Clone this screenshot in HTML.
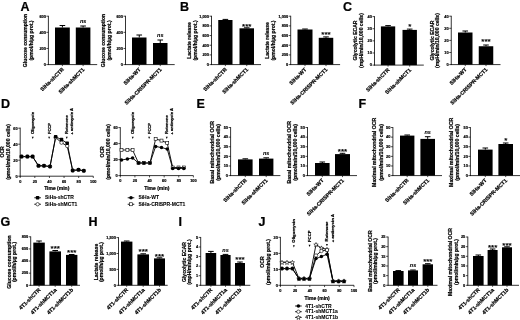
<!DOCTYPE html>
<html><head><meta charset="utf-8"><style>
html,body{margin:0;padding:0;background:#fff;}
body{width:520px;height:320px;overflow:hidden;}
svg{display:block;filter:blur(0.3px);}
text{font-family:"Liberation Sans", Arial, sans-serif;stroke:#000;stroke-width:0.22px;}
</style></head><body>
<svg width="520" height="320" viewBox="0 0 520 320" font-weight="bold">
<rect width="520" height="320" fill="#fff"/>
<text x="20.60" y="10.80" font-size="12.5" text-anchor="start" fill="#000">A</text>
<text x="180.00" y="10.80" font-size="12.5" text-anchor="start" fill="#000">B</text>
<text x="343.00" y="10.90" font-size="12.5" text-anchor="start" fill="#000">C</text>
<text x="26.90" y="40.50" font-size="5.08" text-anchor="middle" transform="rotate(-90 26.90 40.50)" fill="#000">Glucose consumption</text>
<text x="32.60" y="40.50" font-size="5.08" text-anchor="middle" transform="rotate(-90 32.60 40.50)" fill="#000">(pmol/h/µg prot.)</text>
<rect x="55.00" y="27.50" width="14.80" height="37.10" fill="#000"/>
<line x1="62.40" y1="25.50" x2="62.40" y2="27.50" stroke="#000" stroke-width="1.0"/>
<line x1="59.60" y1="25.50" x2="65.20" y2="25.50" stroke="#000" stroke-width="1.0"/>
<rect x="75.80" y="27.50" width="14.60" height="37.10" fill="#000"/>
<line x1="83.10" y1="26.00" x2="83.10" y2="27.50" stroke="#000" stroke-width="1.0"/>
<line x1="80.30" y1="26.00" x2="85.90" y2="26.00" stroke="#000" stroke-width="1.0"/>
<line x1="48.40" y1="15.80" x2="48.40" y2="65.00" stroke="#000" stroke-width="0.8"/>
<line x1="48.00" y1="64.60" x2="97.20" y2="64.60" stroke="#000" stroke-width="0.8"/>
<line x1="46.40" y1="16.20" x2="48.40" y2="16.20" stroke="#000" stroke-width="0.7"/>
<text x="45.80" y="17.50" font-size="3.85" text-anchor="end" fill="#000" style="stroke-width:0.18px">600</text>
<line x1="46.40" y1="32.33" x2="48.40" y2="32.33" stroke="#000" stroke-width="0.7"/>
<text x="45.80" y="33.63" font-size="3.85" text-anchor="end" fill="#000" style="stroke-width:0.18px">400</text>
<line x1="46.40" y1="48.47" x2="48.40" y2="48.47" stroke="#000" stroke-width="0.7"/>
<text x="45.80" y="49.77" font-size="3.85" text-anchor="end" fill="#000" style="stroke-width:0.18px">200</text>
<line x1="46.40" y1="64.60" x2="48.40" y2="64.60" stroke="#000" stroke-width="0.7"/>
<text x="45.80" y="65.90" font-size="3.85" text-anchor="end" fill="#000" style="stroke-width:0.18px">0</text>
<line x1="62.40" y1="64.60" x2="62.40" y2="66.10" stroke="#000" stroke-width="0.7"/>
<text x="64.20" y="69.90" font-size="5.3" text-anchor="end" transform="rotate(-45 64.20 69.90)" fill="#000">SiHa-shCTR</text>
<line x1="83.10" y1="64.60" x2="83.10" y2="66.10" stroke="#000" stroke-width="0.7"/>
<text x="84.90" y="69.90" font-size="5.3" text-anchor="end" transform="rotate(-45 84.90 69.90)" fill="#000">SiHa-shMCT1</text>
<text x="83.10" y="23.23" font-size="5.5" text-anchor="middle" font-style="italic" fill="#000" style="stroke-width:0.1px">ns</text>
<text x="105.40" y="40.50" font-size="5.08" text-anchor="middle" transform="rotate(-90 105.40 40.50)" fill="#000">Glucose consumption</text>
<text x="111.40" y="40.50" font-size="5.08" text-anchor="middle" transform="rotate(-90 111.40 40.50)" fill="#000">(pmol/h/µg prot.)</text>
<rect x="132.00" y="37.50" width="14.50" height="27.10" fill="#000"/>
<line x1="139.25" y1="35.00" x2="139.25" y2="37.50" stroke="#000" stroke-width="1.0"/>
<line x1="136.45" y1="35.00" x2="142.05" y2="35.00" stroke="#000" stroke-width="1.0"/>
<rect x="153.00" y="43.00" width="14.50" height="21.60" fill="#000"/>
<line x1="160.25" y1="40.00" x2="160.25" y2="43.00" stroke="#000" stroke-width="1.0"/>
<line x1="157.45" y1="40.00" x2="163.05" y2="40.00" stroke="#000" stroke-width="1.0"/>
<line x1="125.50" y1="15.80" x2="125.50" y2="65.00" stroke="#000" stroke-width="0.8"/>
<line x1="125.10" y1="64.60" x2="174.70" y2="64.60" stroke="#000" stroke-width="0.8"/>
<line x1="123.50" y1="16.20" x2="125.50" y2="16.20" stroke="#000" stroke-width="0.7"/>
<text x="122.90" y="17.50" font-size="3.85" text-anchor="end" fill="#000" style="stroke-width:0.18px">600</text>
<line x1="123.50" y1="32.33" x2="125.50" y2="32.33" stroke="#000" stroke-width="0.7"/>
<text x="122.90" y="33.63" font-size="3.85" text-anchor="end" fill="#000" style="stroke-width:0.18px">400</text>
<line x1="123.50" y1="48.47" x2="125.50" y2="48.47" stroke="#000" stroke-width="0.7"/>
<text x="122.90" y="49.77" font-size="3.85" text-anchor="end" fill="#000" style="stroke-width:0.18px">200</text>
<line x1="123.50" y1="64.60" x2="125.50" y2="64.60" stroke="#000" stroke-width="0.7"/>
<text x="122.90" y="65.90" font-size="3.85" text-anchor="end" fill="#000" style="stroke-width:0.18px">0</text>
<line x1="139.25" y1="64.60" x2="139.25" y2="66.10" stroke="#000" stroke-width="0.7"/>
<text x="141.05" y="69.90" font-size="5.3" text-anchor="end" transform="rotate(-45 141.05 69.90)" fill="#000">SiHa-WT</text>
<line x1="160.25" y1="64.60" x2="160.25" y2="66.10" stroke="#000" stroke-width="0.7"/>
<text x="162.05" y="69.90" font-size="5.3" text-anchor="end" transform="rotate(-45 162.05 69.90)" fill="#000">SiHa-CRISPR-MCT1</text>
<text x="160.25" y="36.98" font-size="5.5" text-anchor="middle" font-style="italic" fill="#000" style="stroke-width:0.1px">ns</text>
<text x="191.20" y="40.50" font-size="5.08" text-anchor="middle" transform="rotate(-90 191.20 40.50)" fill="#000">Lactate release</text>
<text x="196.90" y="40.50" font-size="5.08" text-anchor="middle" transform="rotate(-90 196.90 40.50)" fill="#000">(pmol/h/µg prot.)</text>
<rect x="218.25" y="20.00" width="14.25" height="44.60" fill="#000"/>
<line x1="225.38" y1="19.40" x2="225.38" y2="20.00" stroke="#000" stroke-width="1.0"/>
<line x1="222.57" y1="19.40" x2="228.18" y2="19.40" stroke="#000" stroke-width="1.0"/>
<rect x="239.50" y="28.30" width="14.50" height="36.30" fill="#000"/>
<line x1="246.75" y1="27.80" x2="246.75" y2="28.30" stroke="#000" stroke-width="1.0"/>
<line x1="243.95" y1="27.80" x2="249.55" y2="27.80" stroke="#000" stroke-width="1.0"/>
<line x1="211.50" y1="15.80" x2="211.50" y2="65.00" stroke="#000" stroke-width="0.8"/>
<line x1="211.10" y1="64.60" x2="261.00" y2="64.60" stroke="#000" stroke-width="0.8"/>
<line x1="209.50" y1="16.20" x2="211.50" y2="16.20" stroke="#000" stroke-width="0.7"/>
<text x="208.90" y="17.50" font-size="3.85" text-anchor="end" fill="#000" style="stroke-width:0.18px">1,000</text>
<line x1="209.50" y1="25.88" x2="211.50" y2="25.88" stroke="#000" stroke-width="0.7"/>
<text x="208.90" y="27.18" font-size="3.85" text-anchor="end" fill="#000" style="stroke-width:0.18px">800</text>
<line x1="209.50" y1="35.56" x2="211.50" y2="35.56" stroke="#000" stroke-width="0.7"/>
<text x="208.90" y="36.86" font-size="3.85" text-anchor="end" fill="#000" style="stroke-width:0.18px">600</text>
<line x1="209.50" y1="45.24" x2="211.50" y2="45.24" stroke="#000" stroke-width="0.7"/>
<text x="208.90" y="46.54" font-size="3.85" text-anchor="end" fill="#000" style="stroke-width:0.18px">400</text>
<line x1="209.50" y1="54.92" x2="211.50" y2="54.92" stroke="#000" stroke-width="0.7"/>
<text x="208.90" y="56.22" font-size="3.85" text-anchor="end" fill="#000" style="stroke-width:0.18px">200</text>
<line x1="209.50" y1="64.60" x2="211.50" y2="64.60" stroke="#000" stroke-width="0.7"/>
<text x="208.90" y="65.90" font-size="3.85" text-anchor="end" fill="#000" style="stroke-width:0.18px">0</text>
<line x1="225.38" y1="64.60" x2="225.38" y2="66.10" stroke="#000" stroke-width="0.7"/>
<text x="227.18" y="69.90" font-size="5.3" text-anchor="end" transform="rotate(-45 227.18 69.90)" fill="#000">SiHa-shCTR</text>
<line x1="246.75" y1="64.60" x2="246.75" y2="66.10" stroke="#000" stroke-width="0.7"/>
<text x="248.55" y="69.90" font-size="5.3" text-anchor="end" transform="rotate(-45 248.55 69.90)" fill="#000">SiHa-shMCT1</text>
<text x="246.75" y="28.50" font-size="8.0" text-anchor="middle" fill="#000" style="stroke-width:0.1px">***</text>
<text x="269.00" y="40.50" font-size="5.08" text-anchor="middle" transform="rotate(-90 269.00 40.50)" fill="#000">Lactate release</text>
<text x="274.70" y="40.50" font-size="5.08" text-anchor="middle" transform="rotate(-90 274.70 40.50)" fill="#000">(pmol/h/µg prot.)</text>
<rect x="297.50" y="29.50" width="15.00" height="35.10" fill="#000"/>
<line x1="305.00" y1="29.00" x2="305.00" y2="29.50" stroke="#000" stroke-width="1.0"/>
<line x1="302.20" y1="29.00" x2="307.80" y2="29.00" stroke="#000" stroke-width="1.0"/>
<rect x="318.75" y="37.80" width="14.50" height="26.80" fill="#000"/>
<line x1="326.00" y1="36.90" x2="326.00" y2="37.80" stroke="#000" stroke-width="1.0"/>
<line x1="323.20" y1="36.90" x2="328.80" y2="36.90" stroke="#000" stroke-width="1.0"/>
<line x1="290.70" y1="15.80" x2="290.70" y2="65.00" stroke="#000" stroke-width="0.8"/>
<line x1="290.30" y1="64.60" x2="340.10" y2="64.60" stroke="#000" stroke-width="0.8"/>
<line x1="288.70" y1="16.20" x2="290.70" y2="16.20" stroke="#000" stroke-width="0.7"/>
<text x="288.10" y="17.50" font-size="3.85" text-anchor="end" fill="#000" style="stroke-width:0.18px">1,000</text>
<line x1="288.70" y1="25.88" x2="290.70" y2="25.88" stroke="#000" stroke-width="0.7"/>
<text x="288.10" y="27.18" font-size="3.85" text-anchor="end" fill="#000" style="stroke-width:0.18px">800</text>
<line x1="288.70" y1="35.56" x2="290.70" y2="35.56" stroke="#000" stroke-width="0.7"/>
<text x="288.10" y="36.86" font-size="3.85" text-anchor="end" fill="#000" style="stroke-width:0.18px">600</text>
<line x1="288.70" y1="45.24" x2="290.70" y2="45.24" stroke="#000" stroke-width="0.7"/>
<text x="288.10" y="46.54" font-size="3.85" text-anchor="end" fill="#000" style="stroke-width:0.18px">400</text>
<line x1="288.70" y1="54.92" x2="290.70" y2="54.92" stroke="#000" stroke-width="0.7"/>
<text x="288.10" y="56.22" font-size="3.85" text-anchor="end" fill="#000" style="stroke-width:0.18px">200</text>
<line x1="288.70" y1="64.60" x2="290.70" y2="64.60" stroke="#000" stroke-width="0.7"/>
<text x="288.10" y="65.90" font-size="3.85" text-anchor="end" fill="#000" style="stroke-width:0.18px">0</text>
<line x1="305.00" y1="64.60" x2="305.00" y2="66.10" stroke="#000" stroke-width="0.7"/>
<text x="306.80" y="69.90" font-size="5.3" text-anchor="end" transform="rotate(-45 306.80 69.90)" fill="#000">SiHa-WT</text>
<line x1="326.00" y1="64.60" x2="326.00" y2="66.10" stroke="#000" stroke-width="0.7"/>
<text x="327.80" y="69.90" font-size="5.3" text-anchor="end" transform="rotate(-45 327.80 69.90)" fill="#000">SiHa-CRISPR-MCT1</text>
<text x="326.00" y="37.30" font-size="8.0" text-anchor="middle" fill="#000" style="stroke-width:0.1px">***</text>
<text x="356.60" y="40.50" font-size="5.08" text-anchor="middle" transform="rotate(-90 356.60 40.50)" fill="#000">Glycolytic ECAR</text>
<text x="362.60" y="40.50" font-size="5.08" text-anchor="middle" transform="rotate(-90 362.60 40.50)" fill="#000">(mpH/min/10,000 cells)</text>
<rect x="380.90" y="26.40" width="14.30" height="38.70" fill="#000"/>
<line x1="388.05" y1="25.60" x2="388.05" y2="26.40" stroke="#000" stroke-width="1.0"/>
<line x1="385.25" y1="25.60" x2="390.85" y2="25.60" stroke="#000" stroke-width="1.0"/>
<rect x="402.50" y="29.90" width="14.40" height="35.20" fill="#000"/>
<line x1="409.70" y1="29.10" x2="409.70" y2="29.90" stroke="#000" stroke-width="1.0"/>
<line x1="406.90" y1="29.10" x2="412.50" y2="29.10" stroke="#000" stroke-width="1.0"/>
<line x1="374.50" y1="16.20" x2="374.50" y2="65.50" stroke="#000" stroke-width="0.8"/>
<line x1="374.10" y1="65.10" x2="423.80" y2="65.10" stroke="#000" stroke-width="0.8"/>
<line x1="372.50" y1="16.60" x2="374.50" y2="16.60" stroke="#000" stroke-width="0.7"/>
<text x="371.90" y="17.90" font-size="3.85" text-anchor="end" fill="#000" style="stroke-width:0.18px">40</text>
<line x1="372.50" y1="28.73" x2="374.50" y2="28.73" stroke="#000" stroke-width="0.7"/>
<text x="371.90" y="30.03" font-size="3.85" text-anchor="end" fill="#000" style="stroke-width:0.18px">30</text>
<line x1="372.50" y1="40.85" x2="374.50" y2="40.85" stroke="#000" stroke-width="0.7"/>
<text x="371.90" y="42.15" font-size="3.85" text-anchor="end" fill="#000" style="stroke-width:0.18px">20</text>
<line x1="372.50" y1="52.97" x2="374.50" y2="52.97" stroke="#000" stroke-width="0.7"/>
<text x="371.90" y="54.27" font-size="3.85" text-anchor="end" fill="#000" style="stroke-width:0.18px">10</text>
<line x1="372.50" y1="65.10" x2="374.50" y2="65.10" stroke="#000" stroke-width="0.7"/>
<text x="371.90" y="66.40" font-size="3.85" text-anchor="end" fill="#000" style="stroke-width:0.18px">0</text>
<line x1="388.05" y1="65.10" x2="388.05" y2="66.60" stroke="#000" stroke-width="0.7"/>
<text x="389.85" y="70.40" font-size="5.3" text-anchor="end" transform="rotate(-45 389.85 70.40)" fill="#000">SiHa-shCTR</text>
<line x1="409.70" y1="65.10" x2="409.70" y2="66.60" stroke="#000" stroke-width="0.7"/>
<text x="411.50" y="70.40" font-size="5.3" text-anchor="end" transform="rotate(-45 411.50 70.40)" fill="#000">SiHa-shMCT1</text>
<text x="409.70" y="29.30" font-size="8.0" text-anchor="middle" fill="#000" style="stroke-width:0.1px">*</text>
<text x="433.60" y="40.50" font-size="5.08" text-anchor="middle" transform="rotate(-90 433.60 40.50)" fill="#000">Glycolytic ECAR</text>
<text x="439.40" y="40.50" font-size="5.08" text-anchor="middle" transform="rotate(-90 439.40 40.50)" fill="#000">(mpH/min/10,000 cells)</text>
<rect x="458.00" y="32.50" width="14.50" height="32.10" fill="#000"/>
<line x1="465.25" y1="31.00" x2="465.25" y2="32.50" stroke="#000" stroke-width="1.0"/>
<line x1="462.45" y1="31.00" x2="468.05" y2="31.00" stroke="#000" stroke-width="1.0"/>
<rect x="478.75" y="46.25" width="14.50" height="18.35" fill="#000"/>
<line x1="486.00" y1="45.00" x2="486.00" y2="46.25" stroke="#000" stroke-width="1.0"/>
<line x1="483.20" y1="45.00" x2="488.80" y2="45.00" stroke="#000" stroke-width="1.0"/>
<line x1="451.25" y1="15.80" x2="451.25" y2="65.00" stroke="#000" stroke-width="0.8"/>
<line x1="450.85" y1="64.60" x2="500.50" y2="64.60" stroke="#000" stroke-width="0.8"/>
<line x1="449.25" y1="16.20" x2="451.25" y2="16.20" stroke="#000" stroke-width="0.7"/>
<text x="448.65" y="17.50" font-size="3.85" text-anchor="end" fill="#000" style="stroke-width:0.18px">40</text>
<line x1="449.25" y1="28.30" x2="451.25" y2="28.30" stroke="#000" stroke-width="0.7"/>
<text x="448.65" y="29.60" font-size="3.85" text-anchor="end" fill="#000" style="stroke-width:0.18px">30</text>
<line x1="449.25" y1="40.40" x2="451.25" y2="40.40" stroke="#000" stroke-width="0.7"/>
<text x="448.65" y="41.70" font-size="3.85" text-anchor="end" fill="#000" style="stroke-width:0.18px">20</text>
<line x1="449.25" y1="52.50" x2="451.25" y2="52.50" stroke="#000" stroke-width="0.7"/>
<text x="448.65" y="53.80" font-size="3.85" text-anchor="end" fill="#000" style="stroke-width:0.18px">10</text>
<line x1="449.25" y1="64.60" x2="451.25" y2="64.60" stroke="#000" stroke-width="0.7"/>
<text x="448.65" y="65.90" font-size="3.85" text-anchor="end" fill="#000" style="stroke-width:0.18px">0</text>
<line x1="465.25" y1="64.60" x2="465.25" y2="66.10" stroke="#000" stroke-width="0.7"/>
<text x="467.05" y="69.90" font-size="5.3" text-anchor="end" transform="rotate(-45 467.05 69.90)" fill="#000">SiHa-WT</text>
<line x1="486.00" y1="64.60" x2="486.00" y2="66.10" stroke="#000" stroke-width="0.7"/>
<text x="487.80" y="69.90" font-size="5.3" text-anchor="end" transform="rotate(-45 487.80 69.90)" fill="#000">SiHa-CRISPR-MCT1</text>
<text x="486.00" y="44.20" font-size="8.0" text-anchor="middle" fill="#000" style="stroke-width:0.1px">***</text>
<text x="1.00" y="107.90" font-size="12.5" text-anchor="start" fill="#000">D</text>
<text x="196.50" y="107.90" font-size="12.5" text-anchor="start" fill="#000">E</text>
<text x="358.50" y="107.90" font-size="12.5" text-anchor="start" fill="#000">F</text>
<line x1="20.20" y1="127.60" x2="20.20" y2="176.60" stroke="#000" stroke-width="0.8"/>
<line x1="19.80" y1="176.20" x2="93.30" y2="176.20" stroke="#000" stroke-width="0.8"/>
<line x1="18.20" y1="128.20" x2="20.20" y2="128.20" stroke="#000" stroke-width="0.7"/>
<text x="17.60" y="129.50" font-size="3.85" text-anchor="end" fill="#000" style="stroke-width:0.18px">60</text>
<line x1="18.20" y1="144.20" x2="20.20" y2="144.20" stroke="#000" stroke-width="0.7"/>
<text x="17.60" y="145.50" font-size="3.85" text-anchor="end" fill="#000" style="stroke-width:0.18px">40</text>
<line x1="18.20" y1="160.20" x2="20.20" y2="160.20" stroke="#000" stroke-width="0.7"/>
<text x="17.60" y="161.50" font-size="3.85" text-anchor="end" fill="#000" style="stroke-width:0.18px">20</text>
<line x1="18.20" y1="176.20" x2="20.20" y2="176.20" stroke="#000" stroke-width="0.7"/>
<text x="17.60" y="177.50" font-size="3.85" text-anchor="end" fill="#000" style="stroke-width:0.18px">0</text>
<line x1="20.20" y1="176.20" x2="20.20" y2="178.00" stroke="#000" stroke-width="0.7"/>
<text x="20.20" y="182.80" font-size="3.85" text-anchor="middle" fill="#000" style="stroke-width:0.18px">0</text>
<line x1="34.82" y1="176.20" x2="34.82" y2="178.00" stroke="#000" stroke-width="0.7"/>
<text x="34.82" y="182.80" font-size="3.85" text-anchor="middle" fill="#000" style="stroke-width:0.18px">20</text>
<line x1="49.44" y1="176.20" x2="49.44" y2="178.00" stroke="#000" stroke-width="0.7"/>
<text x="49.44" y="182.80" font-size="3.85" text-anchor="middle" fill="#000" style="stroke-width:0.18px">40</text>
<line x1="64.06" y1="176.20" x2="64.06" y2="178.00" stroke="#000" stroke-width="0.7"/>
<text x="64.06" y="182.80" font-size="3.85" text-anchor="middle" fill="#000" style="stroke-width:0.18px">60</text>
<line x1="78.68" y1="176.20" x2="78.68" y2="178.00" stroke="#000" stroke-width="0.7"/>
<text x="78.68" y="182.80" font-size="3.85" text-anchor="middle" fill="#000" style="stroke-width:0.18px">80</text>
<line x1="93.30" y1="176.20" x2="93.30" y2="178.00" stroke="#000" stroke-width="0.7"/>
<text x="93.30" y="182.80" font-size="3.85" text-anchor="middle" fill="#000" style="stroke-width:0.18px">100</text>
<text x="56.75" y="189.50" font-size="5.0" text-anchor="middle" fill="#000">Time (min)</text>
<polyline points="21.50,156.60 27.40,156.60 32.60,156.60 38.50,165.80 44.00,165.80 50.00,166.50 55.65,137.50 61.50,142.70 67.20,146.00 72.70,170.50 78.50,169.80 83.80,170.80" fill="none" stroke="#000" stroke-width="0.9"/>
<polyline points="21.50,156.60 27.40,156.60 32.60,156.60 38.50,165.80 44.00,165.80 50.00,166.50 55.65,136.80 61.50,139.60 67.20,143.20 72.70,170.50 78.50,169.80 83.80,170.80" fill="none" stroke="#000" stroke-width="0.9"/>
<circle cx="21.50" cy="156.60" r="1.7" fill="#fff" stroke="#000" stroke-width="0.6"/>
<circle cx="27.40" cy="156.60" r="1.7" fill="#fff" stroke="#000" stroke-width="0.6"/>
<circle cx="32.60" cy="156.60" r="1.7" fill="#fff" stroke="#000" stroke-width="0.6"/>
<circle cx="38.50" cy="165.80" r="1.7" fill="#fff" stroke="#000" stroke-width="0.6"/>
<circle cx="44.00" cy="165.80" r="1.7" fill="#fff" stroke="#000" stroke-width="0.6"/>
<circle cx="50.00" cy="166.50" r="1.7" fill="#fff" stroke="#000" stroke-width="0.6"/>
<circle cx="55.65" cy="137.50" r="1.7" fill="#fff" stroke="#000" stroke-width="0.6"/>
<circle cx="61.50" cy="142.70" r="1.7" fill="#fff" stroke="#000" stroke-width="0.6"/>
<circle cx="67.20" cy="146.00" r="1.7" fill="#fff" stroke="#000" stroke-width="0.6"/>
<circle cx="72.70" cy="170.50" r="1.7" fill="#fff" stroke="#000" stroke-width="0.6"/>
<circle cx="78.50" cy="169.80" r="1.7" fill="#fff" stroke="#000" stroke-width="0.6"/>
<circle cx="83.80" cy="170.80" r="1.7" fill="#fff" stroke="#000" stroke-width="0.6"/>
<rect x="19.75" y="154.85" width="3.5" height="3.5" rx="0.7" fill="#000"/>
<rect x="25.65" y="154.85" width="3.5" height="3.5" rx="0.7" fill="#000"/>
<rect x="30.85" y="154.85" width="3.5" height="3.5" rx="0.7" fill="#000"/>
<rect x="36.75" y="164.05" width="3.5" height="3.5" rx="0.7" fill="#000"/>
<rect x="42.25" y="164.05" width="3.5" height="3.5" rx="0.7" fill="#000"/>
<rect x="48.25" y="164.75" width="3.5" height="3.5" rx="0.7" fill="#000"/>
<rect x="53.90" y="135.05" width="3.5" height="3.5" rx="0.7" fill="#000"/>
<rect x="59.75" y="137.85" width="3.5" height="3.5" rx="0.7" fill="#000"/>
<rect x="65.45" y="141.45" width="3.5" height="3.5" rx="0.7" fill="#000"/>
<rect x="70.95" y="168.75" width="3.5" height="3.5" rx="0.7" fill="#000"/>
<rect x="76.75" y="168.05" width="3.5" height="3.5" rx="0.7" fill="#000"/>
<rect x="82.05" y="169.05" width="3.5" height="3.5" rx="0.7" fill="#000"/>
<polygon points="31.75,136.70 33.75,136.70 32.75,138.90" fill="#000"/>
<text x="34.20" y="134.10" font-size="4.1" text-anchor="start" transform="rotate(-90 34.20 134.10)" fill="#000">Oligomycin</text>
<polygon points="48.15,136.70 50.15,136.70 49.15,138.90" fill="#000"/>
<text x="50.60" y="134.10" font-size="4.1" text-anchor="start" transform="rotate(-90 50.60 134.10)" fill="#000">FCCP</text>
<polygon points="65.75,136.70 67.75,136.70 66.75,138.90" fill="#000"/>
<text x="68.20" y="134.10" font-size="4.1" text-anchor="start" transform="rotate(-90 68.20 134.10)" fill="#000">Rotenone</text>
<text x="73.30" y="134.50" font-size="4.1" text-anchor="start" transform="rotate(-90 73.30 134.50)" fill="#000">+ antimycin A</text>
<line x1="34.30" y1="197.75" x2="40.90" y2="197.75" stroke="#000" stroke-width="0.9"/>
<rect x="35.85" y="196.00" width="3.5" height="3.5" rx="0.7" fill="#000"/>
<text x="45.00" y="199.35" font-size="5.0" text-anchor="start" fill="#000" style="stroke-width:0.08px">SiHa-shCTR</text>
<line x1="34.30" y1="204.25" x2="40.90" y2="204.25" stroke="#000" stroke-width="0.9"/>
<circle cx="37.60" cy="204.25" r="1.7" fill="#fff" stroke="#000" stroke-width="0.6"/>
<text x="45.00" y="205.85" font-size="5.0" text-anchor="start" fill="#000" style="stroke-width:0.08px">SiHa-shMCT1</text>
<text x="4.10" y="151.90" font-size="5.08" text-anchor="middle" transform="rotate(-90 4.10 151.90)" fill="#000">OCR</text>
<text x="9.90" y="151.90" font-size="5.08" text-anchor="middle" transform="rotate(-90 9.90 151.90)" fill="#000">(pmol/min/10,000 cells)</text>
<line x1="120.30" y1="127.20" x2="120.30" y2="176.00" stroke="#000" stroke-width="0.8"/>
<line x1="119.90" y1="175.60" x2="193.40" y2="175.60" stroke="#000" stroke-width="0.8"/>
<line x1="118.30" y1="127.60" x2="120.30" y2="127.60" stroke="#000" stroke-width="0.7"/>
<text x="117.70" y="128.90" font-size="3.85" text-anchor="end" fill="#000" style="stroke-width:0.18px">60</text>
<line x1="118.30" y1="143.60" x2="120.30" y2="143.60" stroke="#000" stroke-width="0.7"/>
<text x="117.70" y="144.90" font-size="3.85" text-anchor="end" fill="#000" style="stroke-width:0.18px">40</text>
<line x1="118.30" y1="159.60" x2="120.30" y2="159.60" stroke="#000" stroke-width="0.7"/>
<text x="117.70" y="160.90" font-size="3.85" text-anchor="end" fill="#000" style="stroke-width:0.18px">20</text>
<line x1="118.30" y1="175.60" x2="120.30" y2="175.60" stroke="#000" stroke-width="0.7"/>
<text x="117.70" y="176.90" font-size="3.85" text-anchor="end" fill="#000" style="stroke-width:0.18px">0</text>
<line x1="120.30" y1="175.60" x2="120.30" y2="177.40" stroke="#000" stroke-width="0.7"/>
<text x="120.30" y="182.20" font-size="3.85" text-anchor="middle" fill="#000" style="stroke-width:0.18px">0</text>
<line x1="134.92" y1="175.60" x2="134.92" y2="177.40" stroke="#000" stroke-width="0.7"/>
<text x="134.92" y="182.20" font-size="3.85" text-anchor="middle" fill="#000" style="stroke-width:0.18px">20</text>
<line x1="149.54" y1="175.60" x2="149.54" y2="177.40" stroke="#000" stroke-width="0.7"/>
<text x="149.54" y="182.20" font-size="3.85" text-anchor="middle" fill="#000" style="stroke-width:0.18px">40</text>
<line x1="164.16" y1="175.60" x2="164.16" y2="177.40" stroke="#000" stroke-width="0.7"/>
<text x="164.16" y="182.20" font-size="3.85" text-anchor="middle" fill="#000" style="stroke-width:0.18px">60</text>
<line x1="178.78" y1="175.60" x2="178.78" y2="177.40" stroke="#000" stroke-width="0.7"/>
<text x="178.78" y="182.20" font-size="3.85" text-anchor="middle" fill="#000" style="stroke-width:0.18px">80</text>
<line x1="193.40" y1="175.60" x2="193.40" y2="177.40" stroke="#000" stroke-width="0.7"/>
<text x="193.40" y="182.20" font-size="3.85" text-anchor="middle" fill="#000" style="stroke-width:0.18px">100</text>
<text x="156.85" y="189.50" font-size="5.0" text-anchor="middle" fill="#000">Time (min)</text>
<polyline points="121.50,150.00 127.40,150.00 132.60,150.00 138.50,163.00 144.00,163.00 150.00,163.00 155.65,139.00 161.50,140.60 167.20,143.00 172.70,167.50 178.50,167.50 183.80,167.50" fill="none" stroke="#000" stroke-width="0.9"/>
<polyline points="121.50,160.00 127.40,159.00 132.60,158.00 138.50,163.00 144.00,163.00 150.00,163.00 155.65,146.40 161.50,147.60 167.20,149.00 172.70,168.40 178.50,168.40 183.80,168.40" fill="none" stroke="#000" stroke-width="0.9"/>
<rect x="120.00" y="148.50" width="3.0" height="3.0" fill="#fff" stroke="#000" stroke-width="0.6"/>
<rect x="125.90" y="148.50" width="3.0" height="3.0" fill="#fff" stroke="#000" stroke-width="0.6"/>
<rect x="131.10" y="148.50" width="3.0" height="3.0" fill="#fff" stroke="#000" stroke-width="0.6"/>
<rect x="137.00" y="161.50" width="3.0" height="3.0" fill="#fff" stroke="#000" stroke-width="0.6"/>
<rect x="142.50" y="161.50" width="3.0" height="3.0" fill="#fff" stroke="#000" stroke-width="0.6"/>
<rect x="148.50" y="161.50" width="3.0" height="3.0" fill="#fff" stroke="#000" stroke-width="0.6"/>
<rect x="154.15" y="137.50" width="3.0" height="3.0" fill="#fff" stroke="#000" stroke-width="0.6"/>
<rect x="160.00" y="139.10" width="3.0" height="3.0" fill="#fff" stroke="#000" stroke-width="0.6"/>
<rect x="165.70" y="141.50" width="3.0" height="3.0" fill="#fff" stroke="#000" stroke-width="0.6"/>
<rect x="171.20" y="166.00" width="3.0" height="3.0" fill="#fff" stroke="#000" stroke-width="0.6"/>
<rect x="177.00" y="166.00" width="3.0" height="3.0" fill="#fff" stroke="#000" stroke-width="0.6"/>
<rect x="182.30" y="166.00" width="3.0" height="3.0" fill="#fff" stroke="#000" stroke-width="0.6"/>
<circle cx="121.50" cy="160.00" r="1.75" fill="#000"/>
<circle cx="127.40" cy="159.00" r="1.75" fill="#000"/>
<circle cx="132.60" cy="158.00" r="1.75" fill="#000"/>
<circle cx="138.50" cy="163.00" r="1.75" fill="#000"/>
<circle cx="144.00" cy="163.00" r="1.75" fill="#000"/>
<circle cx="150.00" cy="163.00" r="1.75" fill="#000"/>
<circle cx="155.65" cy="146.40" r="1.75" fill="#000"/>
<circle cx="161.50" cy="147.60" r="1.75" fill="#000"/>
<circle cx="167.20" cy="149.00" r="1.75" fill="#000"/>
<circle cx="172.70" cy="168.40" r="1.75" fill="#000"/>
<circle cx="178.50" cy="168.40" r="1.75" fill="#000"/>
<circle cx="183.80" cy="168.40" r="1.75" fill="#000"/>
<polygon points="131.75,136.70 133.75,136.70 132.75,138.90" fill="#000"/>
<text x="134.20" y="134.10" font-size="4.1" text-anchor="start" transform="rotate(-90 134.20 134.10)" fill="#000">Oligomycin</text>
<polygon points="148.15,136.70 150.15,136.70 149.15,138.90" fill="#000"/>
<text x="150.60" y="134.10" font-size="4.1" text-anchor="start" transform="rotate(-90 150.60 134.10)" fill="#000">FCCP</text>
<polygon points="165.75,136.70 167.75,136.70 166.75,138.90" fill="#000"/>
<text x="168.20" y="134.10" font-size="4.1" text-anchor="start" transform="rotate(-90 168.20 134.10)" fill="#000">Rotenone</text>
<text x="173.30" y="134.50" font-size="4.1" text-anchor="start" transform="rotate(-90 173.30 134.50)" fill="#000">+ antimycin A</text>
<line x1="127.70" y1="197.75" x2="134.30" y2="197.75" stroke="#000" stroke-width="0.9"/>
<circle cx="131.00" cy="197.75" r="1.75" fill="#000"/>
<text x="138.40" y="199.35" font-size="5.0" text-anchor="start" fill="#000" style="stroke-width:0.08px">SiHa-WT</text>
<line x1="127.70" y1="204.25" x2="134.30" y2="204.25" stroke="#000" stroke-width="0.9"/>
<rect x="129.50" y="202.75" width="3.0" height="3.0" fill="#fff" stroke="#000" stroke-width="0.6"/>
<text x="138.40" y="205.85" font-size="5.0" text-anchor="start" fill="#000" style="stroke-width:0.08px">SiHa-CRISPR-MCT1</text>
<text x="104.00" y="151.90" font-size="5.08" text-anchor="middle" transform="rotate(-90 104.00 151.90)" fill="#000">OCR</text>
<text x="110.40" y="151.90" font-size="5.08" text-anchor="middle" transform="rotate(-90 110.40 151.90)" fill="#000">(pmol/min/10,000 cells)</text>
<text x="214.50" y="152.30" font-size="5.2" text-anchor="middle" transform="rotate(-90 214.50 152.30)" fill="#000">Basal mitochondrial OCR</text>
<text x="220.20" y="152.30" font-size="5.2" text-anchor="middle" transform="rotate(-90 220.20 152.30)" fill="#000">(pmol/min/10,000 cells)</text>
<rect x="238.00" y="159.40" width="14.60" height="16.20" fill="#000"/>
<line x1="245.30" y1="158.80" x2="245.30" y2="159.40" stroke="#000" stroke-width="1.0"/>
<line x1="242.50" y1="158.80" x2="248.10" y2="158.80" stroke="#000" stroke-width="1.0"/>
<rect x="259.00" y="158.60" width="14.40" height="17.00" fill="#000"/>
<line x1="266.20" y1="157.80" x2="266.20" y2="158.60" stroke="#000" stroke-width="1.0"/>
<line x1="263.40" y1="157.80" x2="269.00" y2="157.80" stroke="#000" stroke-width="1.0"/>
<line x1="230.60" y1="127.10" x2="230.60" y2="176.00" stroke="#000" stroke-width="0.8"/>
<line x1="230.20" y1="175.60" x2="280.40" y2="175.60" stroke="#000" stroke-width="0.8"/>
<line x1="228.60" y1="127.50" x2="230.60" y2="127.50" stroke="#000" stroke-width="0.7"/>
<text x="228.00" y="128.80" font-size="3.85" text-anchor="end" fill="#000" style="stroke-width:0.18px">50</text>
<line x1="228.60" y1="137.12" x2="230.60" y2="137.12" stroke="#000" stroke-width="0.7"/>
<text x="228.00" y="138.42" font-size="3.85" text-anchor="end" fill="#000" style="stroke-width:0.18px">40</text>
<line x1="228.60" y1="146.74" x2="230.60" y2="146.74" stroke="#000" stroke-width="0.7"/>
<text x="228.00" y="148.04" font-size="3.85" text-anchor="end" fill="#000" style="stroke-width:0.18px">30</text>
<line x1="228.60" y1="156.36" x2="230.60" y2="156.36" stroke="#000" stroke-width="0.7"/>
<text x="228.00" y="157.66" font-size="3.85" text-anchor="end" fill="#000" style="stroke-width:0.18px">20</text>
<line x1="228.60" y1="165.98" x2="230.60" y2="165.98" stroke="#000" stroke-width="0.7"/>
<text x="228.00" y="167.28" font-size="3.85" text-anchor="end" fill="#000" style="stroke-width:0.18px">10</text>
<line x1="228.60" y1="175.60" x2="230.60" y2="175.60" stroke="#000" stroke-width="0.7"/>
<text x="228.00" y="176.90" font-size="3.85" text-anchor="end" fill="#000" style="stroke-width:0.18px">0</text>
<line x1="245.30" y1="175.60" x2="245.30" y2="177.10" stroke="#000" stroke-width="0.7"/>
<text x="247.10" y="180.80" font-size="5.3" text-anchor="end" transform="rotate(-45 247.10 180.80)" fill="#000">SiHa-shCTR</text>
<line x1="266.20" y1="175.60" x2="266.20" y2="177.10" stroke="#000" stroke-width="0.7"/>
<text x="268.00" y="180.80" font-size="5.3" text-anchor="end" transform="rotate(-45 268.00 180.80)" fill="#000">SiHa-shMCT1</text>
<text x="266.20" y="155.48" font-size="5.5" text-anchor="middle" font-style="italic" fill="#000" style="stroke-width:0.1px">ns</text>
<text x="291.20" y="152.30" font-size="5.2" text-anchor="middle" transform="rotate(-90 291.20 152.30)" fill="#000">Basal mitochondrial OCR</text>
<text x="297.10" y="152.30" font-size="5.2" text-anchor="middle" transform="rotate(-90 297.10 152.30)" fill="#000">(pmol/min/10,000 cells)</text>
<rect x="315.00" y="163.00" width="14.60" height="12.60" fill="#000"/>
<line x1="322.30" y1="162.00" x2="322.30" y2="163.00" stroke="#000" stroke-width="1.0"/>
<line x1="319.50" y1="162.00" x2="325.10" y2="162.00" stroke="#000" stroke-width="1.0"/>
<rect x="335.00" y="154.10" width="15.00" height="21.50" fill="#000"/>
<line x1="342.50" y1="153.30" x2="342.50" y2="154.10" stroke="#000" stroke-width="1.0"/>
<line x1="339.70" y1="153.30" x2="345.30" y2="153.30" stroke="#000" stroke-width="1.0"/>
<line x1="307.50" y1="127.10" x2="307.50" y2="176.00" stroke="#000" stroke-width="0.8"/>
<line x1="307.10" y1="175.60" x2="357.00" y2="175.60" stroke="#000" stroke-width="0.8"/>
<line x1="305.50" y1="127.50" x2="307.50" y2="127.50" stroke="#000" stroke-width="0.7"/>
<text x="304.90" y="128.80" font-size="3.85" text-anchor="end" fill="#000" style="stroke-width:0.18px">50</text>
<line x1="305.50" y1="137.12" x2="307.50" y2="137.12" stroke="#000" stroke-width="0.7"/>
<text x="304.90" y="138.42" font-size="3.85" text-anchor="end" fill="#000" style="stroke-width:0.18px">40</text>
<line x1="305.50" y1="146.74" x2="307.50" y2="146.74" stroke="#000" stroke-width="0.7"/>
<text x="304.90" y="148.04" font-size="3.85" text-anchor="end" fill="#000" style="stroke-width:0.18px">30</text>
<line x1="305.50" y1="156.36" x2="307.50" y2="156.36" stroke="#000" stroke-width="0.7"/>
<text x="304.90" y="157.66" font-size="3.85" text-anchor="end" fill="#000" style="stroke-width:0.18px">20</text>
<line x1="305.50" y1="165.98" x2="307.50" y2="165.98" stroke="#000" stroke-width="0.7"/>
<text x="304.90" y="167.28" font-size="3.85" text-anchor="end" fill="#000" style="stroke-width:0.18px">10</text>
<line x1="305.50" y1="175.60" x2="307.50" y2="175.60" stroke="#000" stroke-width="0.7"/>
<text x="304.90" y="176.90" font-size="3.85" text-anchor="end" fill="#000" style="stroke-width:0.18px">0</text>
<line x1="322.30" y1="175.60" x2="322.30" y2="177.10" stroke="#000" stroke-width="0.7"/>
<text x="324.10" y="180.80" font-size="5.3" text-anchor="end" transform="rotate(-45 324.10 180.80)" fill="#000">SiHa-WT</text>
<line x1="342.50" y1="175.60" x2="342.50" y2="177.10" stroke="#000" stroke-width="0.7"/>
<text x="344.30" y="180.80" font-size="5.3" text-anchor="end" transform="rotate(-45 344.30 180.80)" fill="#000">SiHa-CRISPR-MCT1</text>
<text x="342.50" y="154.00" font-size="8.0" text-anchor="middle" fill="#000" style="stroke-width:0.1px">***</text>
<text x="376.30" y="152.30" font-size="5.2" text-anchor="middle" transform="rotate(-90 376.30 152.30)" fill="#000">Maximal mitochondrial OCR</text>
<text x="382.60" y="152.30" font-size="5.2" text-anchor="middle" transform="rotate(-90 382.60 152.30)" fill="#000">(pmol/min/10,000 cells)</text>
<rect x="400.00" y="135.60" width="14.40" height="40.00" fill="#000"/>
<line x1="407.20" y1="135.00" x2="407.20" y2="135.60" stroke="#000" stroke-width="1.0"/>
<line x1="404.40" y1="135.00" x2="410.00" y2="135.00" stroke="#000" stroke-width="1.0"/>
<rect x="420.40" y="138.90" width="14.60" height="36.70" fill="#000"/>
<line x1="427.70" y1="136.70" x2="427.70" y2="138.90" stroke="#000" stroke-width="1.0"/>
<line x1="424.90" y1="136.70" x2="430.50" y2="136.70" stroke="#000" stroke-width="1.0"/>
<line x1="392.90" y1="127.10" x2="392.90" y2="176.00" stroke="#000" stroke-width="0.8"/>
<line x1="392.50" y1="175.60" x2="442.00" y2="175.60" stroke="#000" stroke-width="0.8"/>
<line x1="390.90" y1="127.50" x2="392.90" y2="127.50" stroke="#000" stroke-width="0.7"/>
<text x="390.30" y="128.80" font-size="3.85" text-anchor="end" fill="#000" style="stroke-width:0.18px">50</text>
<line x1="390.90" y1="137.12" x2="392.90" y2="137.12" stroke="#000" stroke-width="0.7"/>
<text x="390.30" y="138.42" font-size="3.85" text-anchor="end" fill="#000" style="stroke-width:0.18px">40</text>
<line x1="390.90" y1="146.74" x2="392.90" y2="146.74" stroke="#000" stroke-width="0.7"/>
<text x="390.30" y="148.04" font-size="3.85" text-anchor="end" fill="#000" style="stroke-width:0.18px">30</text>
<line x1="390.90" y1="156.36" x2="392.90" y2="156.36" stroke="#000" stroke-width="0.7"/>
<text x="390.30" y="157.66" font-size="3.85" text-anchor="end" fill="#000" style="stroke-width:0.18px">20</text>
<line x1="390.90" y1="165.98" x2="392.90" y2="165.98" stroke="#000" stroke-width="0.7"/>
<text x="390.30" y="167.28" font-size="3.85" text-anchor="end" fill="#000" style="stroke-width:0.18px">10</text>
<line x1="390.90" y1="175.60" x2="392.90" y2="175.60" stroke="#000" stroke-width="0.7"/>
<text x="390.30" y="176.90" font-size="3.85" text-anchor="end" fill="#000" style="stroke-width:0.18px">0</text>
<line x1="407.20" y1="175.60" x2="407.20" y2="177.10" stroke="#000" stroke-width="0.7"/>
<text x="409.00" y="180.80" font-size="5.3" text-anchor="end" transform="rotate(-45 409.00 180.80)" fill="#000">SiHa-shCTR</text>
<line x1="427.70" y1="175.60" x2="427.70" y2="177.10" stroke="#000" stroke-width="0.7"/>
<text x="429.50" y="180.80" font-size="5.3" text-anchor="end" transform="rotate(-45 429.50 180.80)" fill="#000">SiHa-shMCT1</text>
<text x="427.70" y="134.08" font-size="5.5" text-anchor="middle" font-style="italic" fill="#000" style="stroke-width:0.1px">ns</text>
<text x="452.80" y="152.30" font-size="5.2" text-anchor="middle" transform="rotate(-90 452.80 152.30)" fill="#000">Maximal mitochondrial OCR</text>
<text x="458.70" y="152.30" font-size="5.2" text-anchor="middle" transform="rotate(-90 458.70 152.30)" fill="#000">(pmol/min/10,000 cells)</text>
<rect x="478.00" y="149.60" width="14.60" height="26.00" fill="#000"/>
<line x1="485.30" y1="148.00" x2="485.30" y2="149.60" stroke="#000" stroke-width="1.0"/>
<line x1="482.50" y1="148.00" x2="488.10" y2="148.00" stroke="#000" stroke-width="1.0"/>
<rect x="498.40" y="144.00" width="14.60" height="31.60" fill="#000"/>
<line x1="505.70" y1="143.00" x2="505.70" y2="144.00" stroke="#000" stroke-width="1.0"/>
<line x1="502.90" y1="143.00" x2="508.50" y2="143.00" stroke="#000" stroke-width="1.0"/>
<line x1="470.40" y1="127.10" x2="470.40" y2="176.00" stroke="#000" stroke-width="0.8"/>
<line x1="470.00" y1="175.60" x2="520.00" y2="175.60" stroke="#000" stroke-width="0.8"/>
<line x1="468.40" y1="127.50" x2="470.40" y2="127.50" stroke="#000" stroke-width="0.7"/>
<text x="467.80" y="128.80" font-size="3.85" text-anchor="end" fill="#000" style="stroke-width:0.18px">50</text>
<line x1="468.40" y1="137.12" x2="470.40" y2="137.12" stroke="#000" stroke-width="0.7"/>
<text x="467.80" y="138.42" font-size="3.85" text-anchor="end" fill="#000" style="stroke-width:0.18px">40</text>
<line x1="468.40" y1="146.74" x2="470.40" y2="146.74" stroke="#000" stroke-width="0.7"/>
<text x="467.80" y="148.04" font-size="3.85" text-anchor="end" fill="#000" style="stroke-width:0.18px">30</text>
<line x1="468.40" y1="156.36" x2="470.40" y2="156.36" stroke="#000" stroke-width="0.7"/>
<text x="467.80" y="157.66" font-size="3.85" text-anchor="end" fill="#000" style="stroke-width:0.18px">20</text>
<line x1="468.40" y1="165.98" x2="470.40" y2="165.98" stroke="#000" stroke-width="0.7"/>
<text x="467.80" y="167.28" font-size="3.85" text-anchor="end" fill="#000" style="stroke-width:0.18px">10</text>
<line x1="468.40" y1="175.60" x2="470.40" y2="175.60" stroke="#000" stroke-width="0.7"/>
<text x="467.80" y="176.90" font-size="3.85" text-anchor="end" fill="#000" style="stroke-width:0.18px">0</text>
<line x1="485.30" y1="175.60" x2="485.30" y2="177.10" stroke="#000" stroke-width="0.7"/>
<text x="487.10" y="180.80" font-size="5.3" text-anchor="end" transform="rotate(-45 487.10 180.80)" fill="#000">SiHa-WT</text>
<line x1="505.70" y1="175.60" x2="505.70" y2="177.10" stroke="#000" stroke-width="0.7"/>
<text x="507.50" y="180.80" font-size="5.3" text-anchor="end" transform="rotate(-45 507.50 180.80)" fill="#000">SiHa-CRISPR-MCT1</text>
<text x="505.70" y="143.00" font-size="8.0" text-anchor="middle" fill="#000" style="stroke-width:0.1px">*</text>
<text x="0.50" y="226.40" font-size="12.5" text-anchor="start" fill="#000">G</text>
<text x="88.50" y="226.40" font-size="12.5" text-anchor="start" fill="#000">H</text>
<text x="178.50" y="226.40" font-size="12.5" text-anchor="start" fill="#000">I</text>
<text x="258.50" y="226.40" font-size="12.5" text-anchor="start" fill="#000">J</text>
<text x="10.80" y="262.00" font-size="5.08" text-anchor="middle" transform="rotate(-90 10.80 262.00)" fill="#000">Glucose consumption</text>
<text x="16.30" y="262.00" font-size="5.08" text-anchor="middle" transform="rotate(-90 16.30 262.00)" fill="#000">(pmol/h/µg prot.)</text>
<rect x="33.30" y="242.60" width="11.50" height="42.70" fill="#000"/>
<line x1="39.05" y1="241.00" x2="39.05" y2="242.60" stroke="#000" stroke-width="1.0"/>
<line x1="36.25" y1="241.00" x2="41.85" y2="241.00" stroke="#000" stroke-width="1.0"/>
<rect x="49.40" y="251.40" width="11.60" height="33.90" fill="#000"/>
<line x1="55.20" y1="250.50" x2="55.20" y2="251.40" stroke="#000" stroke-width="1.0"/>
<line x1="52.40" y1="250.50" x2="58.00" y2="250.50" stroke="#000" stroke-width="1.0"/>
<rect x="66.00" y="254.90" width="11.40" height="30.40" fill="#000"/>
<line x1="71.70" y1="254.50" x2="71.70" y2="254.90" stroke="#000" stroke-width="1.0"/>
<line x1="68.90" y1="254.50" x2="74.50" y2="254.50" stroke="#000" stroke-width="1.0"/>
<line x1="30.70" y1="236.40" x2="30.70" y2="285.70" stroke="#000" stroke-width="0.8"/>
<line x1="30.30" y1="285.30" x2="80.00" y2="285.30" stroke="#000" stroke-width="0.8"/>
<line x1="28.70" y1="236.80" x2="30.70" y2="236.80" stroke="#000" stroke-width="0.7"/>
<text x="28.10" y="238.10" font-size="3.85" text-anchor="end" fill="#000" style="stroke-width:0.18px">800</text>
<line x1="28.70" y1="248.93" x2="30.70" y2="248.93" stroke="#000" stroke-width="0.7"/>
<text x="28.10" y="250.23" font-size="3.85" text-anchor="end" fill="#000" style="stroke-width:0.18px">600</text>
<line x1="28.70" y1="261.05" x2="30.70" y2="261.05" stroke="#000" stroke-width="0.7"/>
<text x="28.10" y="262.35" font-size="3.85" text-anchor="end" fill="#000" style="stroke-width:0.18px">400</text>
<line x1="28.70" y1="273.18" x2="30.70" y2="273.18" stroke="#000" stroke-width="0.7"/>
<text x="28.10" y="274.48" font-size="3.85" text-anchor="end" fill="#000" style="stroke-width:0.18px">200</text>
<line x1="28.70" y1="285.30" x2="30.70" y2="285.30" stroke="#000" stroke-width="0.7"/>
<text x="28.10" y="286.60" font-size="3.85" text-anchor="end" fill="#000" style="stroke-width:0.18px">0</text>
<line x1="39.05" y1="285.30" x2="39.05" y2="286.80" stroke="#000" stroke-width="0.7"/>
<text x="40.85" y="290.30" font-size="5.3" text-anchor="end" transform="rotate(-45 40.85 290.30)" fill="#000">4T1-shCTR</text>
<line x1="55.20" y1="285.30" x2="55.20" y2="286.80" stroke="#000" stroke-width="0.7"/>
<text x="57.00" y="290.30" font-size="5.3" text-anchor="end" transform="rotate(-45 57.00 290.30)" fill="#000">4T1-shMCT1a</text>
<line x1="71.70" y1="285.30" x2="71.70" y2="286.80" stroke="#000" stroke-width="0.7"/>
<text x="73.50" y="290.30" font-size="5.3" text-anchor="end" transform="rotate(-45 73.50 290.30)" fill="#000">4T1-shMCT1b</text>
<text x="55.20" y="250.90" font-size="8.0" text-anchor="middle" fill="#000" style="stroke-width:0.1px">***</text>
<text x="71.70" y="255.10" font-size="8.0" text-anchor="middle" fill="#000" style="stroke-width:0.1px">***</text>
<text x="97.60" y="262.00" font-size="5.08" text-anchor="middle" transform="rotate(-90 97.60 262.00)" fill="#000">Lactate release</text>
<text x="103.20" y="262.00" font-size="5.08" text-anchor="middle" transform="rotate(-90 103.20 262.00)" fill="#000">(pmol/h/µg prot.)</text>
<rect x="121.00" y="241.60" width="11.40" height="43.70" fill="#000"/>
<line x1="126.70" y1="241.00" x2="126.70" y2="241.60" stroke="#000" stroke-width="1.0"/>
<line x1="123.90" y1="241.00" x2="129.50" y2="241.00" stroke="#000" stroke-width="1.0"/>
<rect x="137.40" y="254.40" width="11.60" height="30.90" fill="#000"/>
<line x1="143.20" y1="253.80" x2="143.20" y2="254.40" stroke="#000" stroke-width="1.0"/>
<line x1="140.40" y1="253.80" x2="146.00" y2="253.80" stroke="#000" stroke-width="1.0"/>
<rect x="154.00" y="258.40" width="11.00" height="26.90" fill="#000"/>
<line x1="159.50" y1="257.80" x2="159.50" y2="258.40" stroke="#000" stroke-width="1.0"/>
<line x1="156.70" y1="257.80" x2="162.30" y2="257.80" stroke="#000" stroke-width="1.0"/>
<line x1="118.50" y1="237.20" x2="118.50" y2="285.70" stroke="#000" stroke-width="0.8"/>
<line x1="118.10" y1="285.30" x2="167.70" y2="285.30" stroke="#000" stroke-width="0.8"/>
<line x1="116.50" y1="237.60" x2="118.50" y2="237.60" stroke="#000" stroke-width="0.7"/>
<text x="115.90" y="238.90" font-size="3.85" text-anchor="end" fill="#000" style="stroke-width:0.18px">1,500</text>
<line x1="116.50" y1="253.50" x2="118.50" y2="253.50" stroke="#000" stroke-width="0.7"/>
<text x="115.90" y="254.80" font-size="3.85" text-anchor="end" fill="#000" style="stroke-width:0.18px">1,000</text>
<line x1="116.50" y1="269.40" x2="118.50" y2="269.40" stroke="#000" stroke-width="0.7"/>
<text x="115.90" y="270.70" font-size="3.85" text-anchor="end" fill="#000" style="stroke-width:0.18px">500</text>
<line x1="116.50" y1="285.30" x2="118.50" y2="285.30" stroke="#000" stroke-width="0.7"/>
<text x="115.90" y="286.60" font-size="3.85" text-anchor="end" fill="#000" style="stroke-width:0.18px">0</text>
<line x1="126.70" y1="285.30" x2="126.70" y2="286.80" stroke="#000" stroke-width="0.7"/>
<text x="128.50" y="290.30" font-size="5.3" text-anchor="end" transform="rotate(-45 128.50 290.30)" fill="#000">4T1-shCTR</text>
<line x1="143.20" y1="285.30" x2="143.20" y2="286.80" stroke="#000" stroke-width="0.7"/>
<text x="145.00" y="290.30" font-size="5.3" text-anchor="end" transform="rotate(-45 145.00 290.30)" fill="#000">4T1-shMCT1a</text>
<line x1="159.50" y1="285.30" x2="159.50" y2="286.80" stroke="#000" stroke-width="0.7"/>
<text x="161.30" y="290.30" font-size="5.3" text-anchor="end" transform="rotate(-45 161.30 290.30)" fill="#000">4T1-shMCT1b</text>
<text x="143.20" y="254.40" font-size="8.0" text-anchor="middle" fill="#000" style="stroke-width:0.1px">***</text>
<text x="159.50" y="258.50" font-size="8.0" text-anchor="middle" fill="#000" style="stroke-width:0.1px">***</text>
<text x="185.60" y="262.00" font-size="5.08" text-anchor="middle" transform="rotate(-90 185.60 262.00)" fill="#000">Glycolytic ECAR</text>
<text x="191.30" y="262.00" font-size="5.08" text-anchor="middle" transform="rotate(-90 191.30 262.00)" fill="#000">(mpH/min/µg prot.)</text>
<rect x="205.60" y="253.00" width="10.60" height="32.30" fill="#000"/>
<line x1="210.90" y1="251.40" x2="210.90" y2="253.00" stroke="#000" stroke-width="1.0"/>
<line x1="208.10" y1="251.40" x2="213.70" y2="251.40" stroke="#000" stroke-width="1.0"/>
<rect x="220.40" y="255.00" width="10.20" height="30.30" fill="#000"/>
<line x1="225.50" y1="254.40" x2="225.50" y2="255.00" stroke="#000" stroke-width="1.0"/>
<line x1="222.70" y1="254.40" x2="228.30" y2="254.40" stroke="#000" stroke-width="1.0"/>
<rect x="235.00" y="263.00" width="10.00" height="22.30" fill="#000"/>
<line x1="240.00" y1="262.00" x2="240.00" y2="263.00" stroke="#000" stroke-width="1.0"/>
<line x1="237.20" y1="262.00" x2="242.80" y2="262.00" stroke="#000" stroke-width="1.0"/>
<line x1="200.70" y1="237.00" x2="200.70" y2="285.70" stroke="#000" stroke-width="0.8"/>
<line x1="200.30" y1="285.30" x2="250.30" y2="285.30" stroke="#000" stroke-width="0.8"/>
<line x1="198.70" y1="237.40" x2="200.70" y2="237.40" stroke="#000" stroke-width="0.7"/>
<text x="198.10" y="238.70" font-size="3.85" text-anchor="end" fill="#000" style="stroke-width:0.18px">5</text>
<line x1="198.70" y1="246.98" x2="200.70" y2="246.98" stroke="#000" stroke-width="0.7"/>
<text x="198.10" y="248.28" font-size="3.85" text-anchor="end" fill="#000" style="stroke-width:0.18px">4</text>
<line x1="198.70" y1="256.56" x2="200.70" y2="256.56" stroke="#000" stroke-width="0.7"/>
<text x="198.10" y="257.86" font-size="3.85" text-anchor="end" fill="#000" style="stroke-width:0.18px">3</text>
<line x1="198.70" y1="266.14" x2="200.70" y2="266.14" stroke="#000" stroke-width="0.7"/>
<text x="198.10" y="267.44" font-size="3.85" text-anchor="end" fill="#000" style="stroke-width:0.18px">2</text>
<line x1="198.70" y1="275.72" x2="200.70" y2="275.72" stroke="#000" stroke-width="0.7"/>
<text x="198.10" y="277.02" font-size="3.85" text-anchor="end" fill="#000" style="stroke-width:0.18px">1</text>
<line x1="198.70" y1="285.30" x2="200.70" y2="285.30" stroke="#000" stroke-width="0.7"/>
<text x="198.10" y="286.60" font-size="3.85" text-anchor="end" fill="#000" style="stroke-width:0.18px">0</text>
<line x1="210.90" y1="285.30" x2="210.90" y2="286.80" stroke="#000" stroke-width="0.7"/>
<text x="212.70" y="290.30" font-size="5.3" text-anchor="end" transform="rotate(-45 212.70 290.30)" fill="#000">4T1-shCTR</text>
<line x1="225.50" y1="285.30" x2="225.50" y2="286.80" stroke="#000" stroke-width="0.7"/>
<text x="227.30" y="290.30" font-size="5.3" text-anchor="end" transform="rotate(-45 227.30 290.30)" fill="#000">4T1-shMCT1a</text>
<line x1="240.00" y1="285.30" x2="240.00" y2="286.80" stroke="#000" stroke-width="0.7"/>
<text x="241.80" y="290.30" font-size="5.3" text-anchor="end" transform="rotate(-45 241.80 290.30)" fill="#000">4T1-shMCT1b</text>
<text x="225.50" y="251.98" font-size="5.5" text-anchor="middle" font-style="italic" fill="#000" style="stroke-width:0.1px">ns</text>
<text x="240.00" y="262.40" font-size="8.0" text-anchor="middle" fill="#000" style="stroke-width:0.1px">***</text>
<line x1="280.40" y1="236.90" x2="280.40" y2="285.70" stroke="#000" stroke-width="0.8"/>
<line x1="280.00" y1="285.30" x2="354.00" y2="285.30" stroke="#000" stroke-width="0.8"/>
<line x1="278.40" y1="237.30" x2="280.40" y2="237.30" stroke="#000" stroke-width="0.7"/>
<text x="277.80" y="238.60" font-size="3.85" text-anchor="end" fill="#000" style="stroke-width:0.18px">30</text>
<line x1="278.40" y1="253.40" x2="280.40" y2="253.40" stroke="#000" stroke-width="0.7"/>
<text x="277.80" y="254.70" font-size="3.85" text-anchor="end" fill="#000" style="stroke-width:0.18px">20</text>
<line x1="278.40" y1="269.50" x2="280.40" y2="269.50" stroke="#000" stroke-width="0.7"/>
<text x="277.80" y="270.80" font-size="3.85" text-anchor="end" fill="#000" style="stroke-width:0.18px">10</text>
<line x1="278.40" y1="285.30" x2="280.40" y2="285.30" stroke="#000" stroke-width="0.7"/>
<text x="277.80" y="286.60" font-size="3.85" text-anchor="end" fill="#000" style="stroke-width:0.18px">0</text>
<line x1="280.40" y1="285.30" x2="280.40" y2="287.10" stroke="#000" stroke-width="0.7"/>
<text x="280.40" y="291.90" font-size="3.85" text-anchor="middle" fill="#000" style="stroke-width:0.18px">0</text>
<line x1="295.12" y1="285.30" x2="295.12" y2="287.10" stroke="#000" stroke-width="0.7"/>
<text x="295.12" y="291.90" font-size="3.85" text-anchor="middle" fill="#000" style="stroke-width:0.18px">20</text>
<line x1="309.84" y1="285.30" x2="309.84" y2="287.10" stroke="#000" stroke-width="0.7"/>
<text x="309.84" y="291.90" font-size="3.85" text-anchor="middle" fill="#000" style="stroke-width:0.18px">40</text>
<line x1="324.56" y1="285.30" x2="324.56" y2="287.10" stroke="#000" stroke-width="0.7"/>
<text x="324.56" y="291.90" font-size="3.85" text-anchor="middle" fill="#000" style="stroke-width:0.18px">60</text>
<line x1="339.28" y1="285.30" x2="339.28" y2="287.10" stroke="#000" stroke-width="0.7"/>
<text x="339.28" y="291.90" font-size="3.85" text-anchor="middle" fill="#000" style="stroke-width:0.18px">80</text>
<line x1="354.00" y1="285.30" x2="354.00" y2="287.10" stroke="#000" stroke-width="0.7"/>
<text x="354.00" y="291.90" font-size="3.85" text-anchor="middle" fill="#000" style="stroke-width:0.18px">100</text>
<text x="317.20" y="299.50" font-size="5.0" text-anchor="middle" fill="#000">Time (min)</text>
<polyline points="282.00,262.40 287.00,262.40 292.40,262.40 299.00,278.60 304.00,278.60 309.40,278.60 316.00,244.60 321.40,248.00 327.00,249.40 333.00,281.00 338.60,281.00 344.00,281.00" fill="none" stroke="#000" stroke-width="0.9"/>
<polyline points="282.00,268.60 287.00,268.60 292.40,268.60 299.00,278.80 304.00,278.80 309.40,278.80 316.00,255.50 321.40,251.00 327.00,250.00 333.00,281.20 338.60,281.20 344.00,281.20" fill="none" stroke="#000" stroke-width="0.9"/>
<polyline points="282.00,268.60 287.00,268.60 292.40,268.60 299.00,278.80 304.00,278.80 309.40,278.80 316.00,258.60 321.40,256.60 327.00,254.20 333.00,281.60 338.60,281.60 344.00,281.60" fill="none" stroke="#000" stroke-width="0.9"/>
<polygon points="282.00,260.30 282.59,261.79 284.19,261.89 282.95,262.91 283.35,264.46 282.00,263.60 280.65,264.46 281.05,262.91 279.81,261.89 281.41,261.79" fill="#fff" stroke="#000" stroke-width="0.6"/>
<polygon points="287.00,260.30 287.59,261.79 289.19,261.89 287.95,262.91 288.35,264.46 287.00,263.60 285.65,264.46 286.05,262.91 284.81,261.89 286.41,261.79" fill="#fff" stroke="#000" stroke-width="0.6"/>
<polygon points="292.40,260.30 292.99,261.79 294.59,261.89 293.35,262.91 293.75,264.46 292.40,263.60 291.05,264.46 291.45,262.91 290.21,261.89 291.81,261.79" fill="#fff" stroke="#000" stroke-width="0.6"/>
<polygon points="299.00,276.50 299.59,277.99 301.19,278.09 299.95,279.11 300.35,280.66 299.00,279.80 297.65,280.66 298.05,279.11 296.81,278.09 298.41,277.99" fill="#fff" stroke="#000" stroke-width="0.6"/>
<polygon points="304.00,276.50 304.59,277.99 306.19,278.09 304.95,279.11 305.35,280.66 304.00,279.80 302.65,280.66 303.05,279.11 301.81,278.09 303.41,277.99" fill="#fff" stroke="#000" stroke-width="0.6"/>
<polygon points="309.40,276.50 309.99,277.99 311.59,278.09 310.35,279.11 310.75,280.66 309.40,279.80 308.05,280.66 308.45,279.11 307.21,278.09 308.81,277.99" fill="#fff" stroke="#000" stroke-width="0.6"/>
<polygon points="316.00,242.50 316.59,243.99 318.19,244.09 316.95,245.11 317.35,246.66 316.00,245.80 314.65,246.66 315.05,245.11 313.81,244.09 315.41,243.99" fill="#fff" stroke="#000" stroke-width="0.6"/>
<polygon points="321.40,245.90 321.99,247.39 323.59,247.49 322.35,248.51 322.75,250.06 321.40,249.20 320.05,250.06 320.45,248.51 319.21,247.49 320.81,247.39" fill="#fff" stroke="#000" stroke-width="0.6"/>
<polygon points="327.00,247.30 327.59,248.79 329.19,248.89 327.95,249.91 328.35,251.46 327.00,250.60 325.65,251.46 326.05,249.91 324.81,248.89 326.41,248.79" fill="#fff" stroke="#000" stroke-width="0.6"/>
<polygon points="333.00,278.90 333.59,280.39 335.19,280.49 333.95,281.51 334.35,283.06 333.00,282.20 331.65,283.06 332.05,281.51 330.81,280.49 332.41,280.39" fill="#fff" stroke="#000" stroke-width="0.6"/>
<polygon points="338.60,278.90 339.19,280.39 340.79,280.49 339.55,281.51 339.95,283.06 338.60,282.20 337.25,283.06 337.65,281.51 336.41,280.49 338.01,280.39" fill="#fff" stroke="#000" stroke-width="0.6"/>
<polygon points="344.00,278.90 344.59,280.39 346.19,280.49 344.95,281.51 345.35,283.06 344.00,282.20 342.65,283.06 343.05,281.51 341.81,280.49 343.41,280.39" fill="#fff" stroke="#000" stroke-width="0.6"/>
<circle cx="282.00" cy="268.60" r="1.7" fill="#fff" stroke="#000" stroke-width="0.6"/>
<circle cx="287.00" cy="268.60" r="1.7" fill="#fff" stroke="#000" stroke-width="0.6"/>
<circle cx="292.40" cy="268.60" r="1.7" fill="#fff" stroke="#000" stroke-width="0.6"/>
<circle cx="299.00" cy="278.80" r="1.7" fill="#fff" stroke="#000" stroke-width="0.6"/>
<circle cx="304.00" cy="278.80" r="1.7" fill="#fff" stroke="#000" stroke-width="0.6"/>
<circle cx="309.40" cy="278.80" r="1.7" fill="#fff" stroke="#000" stroke-width="0.6"/>
<circle cx="316.00" cy="255.50" r="1.7" fill="#fff" stroke="#000" stroke-width="0.6"/>
<circle cx="321.40" cy="251.00" r="1.7" fill="#fff" stroke="#000" stroke-width="0.6"/>
<circle cx="327.00" cy="250.00" r="1.7" fill="#fff" stroke="#000" stroke-width="0.6"/>
<circle cx="333.00" cy="281.20" r="1.7" fill="#fff" stroke="#000" stroke-width="0.6"/>
<circle cx="338.60" cy="281.20" r="1.7" fill="#fff" stroke="#000" stroke-width="0.6"/>
<circle cx="344.00" cy="281.20" r="1.7" fill="#fff" stroke="#000" stroke-width="0.6"/>
<circle cx="282.00" cy="268.60" r="1.75" fill="#000"/>
<circle cx="287.00" cy="268.60" r="1.75" fill="#000"/>
<circle cx="292.40" cy="268.60" r="1.75" fill="#000"/>
<circle cx="299.00" cy="278.80" r="1.75" fill="#000"/>
<circle cx="304.00" cy="278.80" r="1.75" fill="#000"/>
<circle cx="309.40" cy="278.80" r="1.75" fill="#000"/>
<circle cx="316.00" cy="258.60" r="1.75" fill="#000"/>
<circle cx="321.40" cy="256.60" r="1.75" fill="#000"/>
<circle cx="327.00" cy="254.20" r="1.75" fill="#000"/>
<circle cx="333.00" cy="281.60" r="1.75" fill="#000"/>
<circle cx="338.60" cy="281.60" r="1.75" fill="#000"/>
<circle cx="344.00" cy="281.60" r="1.75" fill="#000"/>
<polygon points="292.85,245.30 294.85,245.30 293.85,247.50" fill="#000"/>
<text x="295.30" y="242.70" font-size="4.35" text-anchor="start" transform="rotate(-90 295.30 242.70)" fill="#000">Oligomycin</text>
<polygon points="308.55,244.70 310.55,244.70 309.55,246.90" fill="#000"/>
<text x="311.00" y="242.10" font-size="4.35" text-anchor="start" transform="rotate(-90 311.00 242.10)" fill="#000">FCCP</text>
<polygon points="325.95,244.10 327.95,244.10 326.95,246.30" fill="#000"/>
<text x="328.40" y="241.50" font-size="4.35" text-anchor="start" transform="rotate(-90 328.40 241.50)" fill="#000">Rotenone</text>
<text x="334.10" y="242.20" font-size="4.35" text-anchor="start" transform="rotate(-90 334.10 242.20)" fill="#000">+ antimycin A</text>
<line x1="295.10" y1="306.00" x2="301.70" y2="306.00" stroke="#000" stroke-width="0.9"/>
<circle cx="298.40" cy="306.00" r="1.75" fill="#000"/>
<text x="305.20" y="307.60" font-size="5.0" text-anchor="start" fill="#000" style="stroke-width:0.08px">4T1-shCTR</text>
<line x1="295.10" y1="311.70" x2="301.70" y2="311.70" stroke="#000" stroke-width="0.9"/>
<circle cx="298.40" cy="311.70" r="1.7" fill="#fff" stroke="#000" stroke-width="0.6"/>
<text x="305.20" y="313.30" font-size="5.0" text-anchor="start" fill="#000" style="stroke-width:0.08px">4T1-shMCT1a</text>
<line x1="295.10" y1="317.40" x2="301.70" y2="317.40" stroke="#000" stroke-width="0.9"/>
<polygon points="298.40,315.30 298.99,316.79 300.59,316.89 299.35,317.91 299.75,319.46 298.40,318.60 297.05,319.46 297.45,317.91 296.21,316.89 297.81,316.79" fill="#fff" stroke="#000" stroke-width="0.6"/>
<text x="305.20" y="319.00" font-size="5.0" text-anchor="start" fill="#000" style="stroke-width:0.08px">4T1-shMCT1b</text>
<text x="264.00" y="262.00" font-size="5.08" text-anchor="middle" transform="rotate(-90 264.00 262.00)" fill="#000">OCR</text>
<text x="269.80" y="262.00" font-size="5.08" text-anchor="middle" transform="rotate(-90 269.80 262.00)" fill="#000">(pmol/min/µg prot.)</text>
<text x="371.80" y="261.00" font-size="5.08" text-anchor="middle" transform="rotate(-90 371.80 261.00)" fill="#000">Basal mitochondrial OCR</text>
<text x="377.30" y="261.00" font-size="5.08" text-anchor="middle" transform="rotate(-90 377.30 261.00)" fill="#000">(pmol/min/µg prot.)</text>
<rect x="393.00" y="271.00" width="10.60" height="14.30" fill="#000"/>
<line x1="398.30" y1="270.60" x2="398.30" y2="271.00" stroke="#000" stroke-width="1.0"/>
<line x1="395.50" y1="270.60" x2="401.10" y2="270.60" stroke="#000" stroke-width="1.0"/>
<rect x="408.00" y="270.40" width="10.00" height="14.90" fill="#000"/>
<line x1="413.00" y1="270.00" x2="413.00" y2="270.40" stroke="#000" stroke-width="1.0"/>
<line x1="410.20" y1="270.00" x2="415.80" y2="270.00" stroke="#000" stroke-width="1.0"/>
<rect x="422.60" y="264.30" width="10.40" height="21.00" fill="#000"/>
<line x1="427.80" y1="263.70" x2="427.80" y2="264.30" stroke="#000" stroke-width="1.0"/>
<line x1="425.00" y1="263.70" x2="430.60" y2="263.70" stroke="#000" stroke-width="1.0"/>
<line x1="388.10" y1="236.60" x2="388.10" y2="285.70" stroke="#000" stroke-width="0.8"/>
<line x1="387.70" y1="285.30" x2="437.50" y2="285.30" stroke="#000" stroke-width="0.8"/>
<line x1="386.10" y1="237.00" x2="388.10" y2="237.00" stroke="#000" stroke-width="0.7"/>
<text x="385.50" y="238.30" font-size="3.85" text-anchor="end" fill="#000" style="stroke-width:0.18px">25</text>
<line x1="386.10" y1="246.66" x2="388.10" y2="246.66" stroke="#000" stroke-width="0.7"/>
<text x="385.50" y="247.96" font-size="3.85" text-anchor="end" fill="#000" style="stroke-width:0.18px">20</text>
<line x1="386.10" y1="256.32" x2="388.10" y2="256.32" stroke="#000" stroke-width="0.7"/>
<text x="385.50" y="257.62" font-size="3.85" text-anchor="end" fill="#000" style="stroke-width:0.18px">15</text>
<line x1="386.10" y1="265.98" x2="388.10" y2="265.98" stroke="#000" stroke-width="0.7"/>
<text x="385.50" y="267.28" font-size="3.85" text-anchor="end" fill="#000" style="stroke-width:0.18px">10</text>
<line x1="386.10" y1="275.64" x2="388.10" y2="275.64" stroke="#000" stroke-width="0.7"/>
<text x="385.50" y="276.94" font-size="3.85" text-anchor="end" fill="#000" style="stroke-width:0.18px">5</text>
<line x1="386.10" y1="285.30" x2="388.10" y2="285.30" stroke="#000" stroke-width="0.7"/>
<text x="385.50" y="286.60" font-size="3.85" text-anchor="end" fill="#000" style="stroke-width:0.18px">0</text>
<line x1="398.30" y1="285.30" x2="398.30" y2="286.80" stroke="#000" stroke-width="0.7"/>
<text x="400.10" y="290.30" font-size="5.3" text-anchor="end" transform="rotate(-45 400.10 290.30)" fill="#000">4T1-shCTR</text>
<line x1="413.00" y1="285.30" x2="413.00" y2="286.80" stroke="#000" stroke-width="0.7"/>
<text x="414.80" y="290.30" font-size="5.3" text-anchor="end" transform="rotate(-45 414.80 290.30)" fill="#000">4T1-shMCT1a</text>
<line x1="427.80" y1="285.30" x2="427.80" y2="286.80" stroke="#000" stroke-width="0.7"/>
<text x="429.60" y="290.30" font-size="5.3" text-anchor="end" transform="rotate(-45 429.60 290.30)" fill="#000">4T1-shMCT1b</text>
<text x="413.00" y="267.28" font-size="5.5" text-anchor="middle" font-style="italic" fill="#000" style="stroke-width:0.1px">ns</text>
<text x="427.80" y="264.20" font-size="8.0" text-anchor="middle" fill="#000" style="stroke-width:0.1px">***</text>
<text x="451.80" y="262.00" font-size="5.08" text-anchor="middle" transform="rotate(-90 451.80 262.00)" fill="#000">Maximal mitochondrial OCR</text>
<text x="457.50" y="262.00" font-size="5.08" text-anchor="middle" transform="rotate(-90 457.50 262.00)" fill="#000">(pmol/min/µg prot.)</text>
<rect x="473.00" y="256.00" width="10.60" height="29.30" fill="#000"/>
<line x1="478.30" y1="255.00" x2="478.30" y2="256.00" stroke="#000" stroke-width="1.0"/>
<line x1="475.50" y1="255.00" x2="481.10" y2="255.00" stroke="#000" stroke-width="1.0"/>
<rect x="487.60" y="250.00" width="10.00" height="35.30" fill="#000"/>
<line x1="492.60" y1="249.00" x2="492.60" y2="250.00" stroke="#000" stroke-width="1.0"/>
<line x1="489.80" y1="249.00" x2="495.40" y2="249.00" stroke="#000" stroke-width="1.0"/>
<rect x="502.00" y="247.30" width="10.00" height="38.00" fill="#000"/>
<line x1="507.00" y1="246.80" x2="507.00" y2="247.30" stroke="#000" stroke-width="1.0"/>
<line x1="504.20" y1="246.80" x2="509.80" y2="246.80" stroke="#000" stroke-width="1.0"/>
<line x1="467.80" y1="236.60" x2="467.80" y2="285.70" stroke="#000" stroke-width="0.8"/>
<line x1="467.40" y1="285.30" x2="519.00" y2="285.30" stroke="#000" stroke-width="0.8"/>
<line x1="465.80" y1="237.00" x2="467.80" y2="237.00" stroke="#000" stroke-width="0.7"/>
<text x="465.20" y="238.30" font-size="3.85" text-anchor="end" fill="#000" style="stroke-width:0.18px">25</text>
<line x1="465.80" y1="246.66" x2="467.80" y2="246.66" stroke="#000" stroke-width="0.7"/>
<text x="465.20" y="247.96" font-size="3.85" text-anchor="end" fill="#000" style="stroke-width:0.18px">20</text>
<line x1="465.80" y1="256.32" x2="467.80" y2="256.32" stroke="#000" stroke-width="0.7"/>
<text x="465.20" y="257.62" font-size="3.85" text-anchor="end" fill="#000" style="stroke-width:0.18px">15</text>
<line x1="465.80" y1="265.98" x2="467.80" y2="265.98" stroke="#000" stroke-width="0.7"/>
<text x="465.20" y="267.28" font-size="3.85" text-anchor="end" fill="#000" style="stroke-width:0.18px">10</text>
<line x1="465.80" y1="275.64" x2="467.80" y2="275.64" stroke="#000" stroke-width="0.7"/>
<text x="465.20" y="276.94" font-size="3.85" text-anchor="end" fill="#000" style="stroke-width:0.18px">5</text>
<line x1="465.80" y1="285.30" x2="467.80" y2="285.30" stroke="#000" stroke-width="0.7"/>
<text x="465.20" y="286.60" font-size="3.85" text-anchor="end" fill="#000" style="stroke-width:0.18px">0</text>
<line x1="478.30" y1="285.30" x2="478.30" y2="286.80" stroke="#000" stroke-width="0.7"/>
<text x="480.10" y="290.30" font-size="5.3" text-anchor="end" transform="rotate(-45 480.10 290.30)" fill="#000">4T1-shCTR</text>
<line x1="492.60" y1="285.30" x2="492.60" y2="286.80" stroke="#000" stroke-width="0.7"/>
<text x="494.40" y="290.30" font-size="5.3" text-anchor="end" transform="rotate(-45 494.40 290.30)" fill="#000">4T1-shMCT1a</text>
<line x1="507.00" y1="285.30" x2="507.00" y2="286.80" stroke="#000" stroke-width="0.7"/>
<text x="508.80" y="290.30" font-size="5.3" text-anchor="end" transform="rotate(-45 508.80 290.30)" fill="#000">4T1-shMCT1b</text>
<text x="492.60" y="249.50" font-size="8.0" text-anchor="middle" fill="#000" style="stroke-width:0.1px">***</text>
<text x="507.00" y="247.70" font-size="8.0" text-anchor="middle" fill="#000" style="stroke-width:0.1px">***</text>
</svg>
</body></html>
